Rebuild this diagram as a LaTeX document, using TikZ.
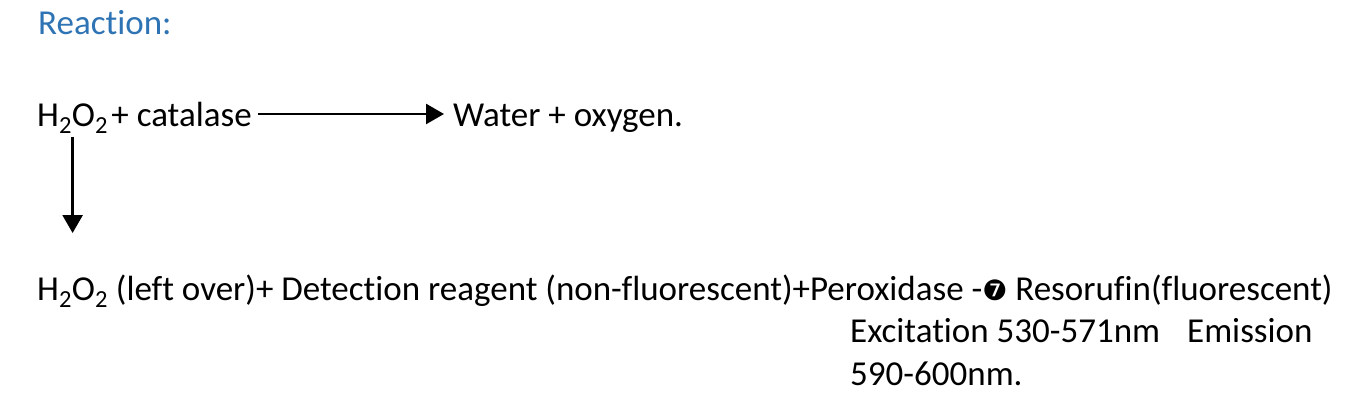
\documentclass[tikz,border=0pt]{standalone}
\usepackage{fontspec}
\setmainfont{Carlito}[Ligatures={NoCommon}]
\newfontfamily\symfont{DejaVu Sans}
\usetikzlibrary{arrows.meta}
\definecolor{headblue}{RGB}{46,116,181}
\tikzset{
  txt/.style={anchor=base west, inner sep=0pt, font=\fontsize{35}{42}\selectfont},
  react/.style={-{Triangle[width=20pt,length=18pt]}, line width=2.6pt}
}
\begin{document}
\begin{tikzpicture}[x=1pt,y=-1pt]
\useasboundingbox (0,0) rectangle (1360,400);
\node[txt, text=headblue](head) at (38,34) {Reaction:};
\node[txt](h2o2) at (37,126) {H\textsubscript{2}O\textsubscript{2}};
\node[txt, anchor=base west](catalase) at (h2o2.base east) {\hspace{3pt}+ catalase};
\node[txt](water) at (453,126) {Water + oxygen.};
\node[txt](bottom) at (37,300) {H\textsubscript{2}O\textsubscript{2} (left over)+ Detection reagent (non-fluorescent)+Peroxidase -{\symfont\fontsize{28}{30}\selectfont ❼} Resorufin(fluorescent)};
\node[txt](excite) at (850,342) {Excitation 530-571nm\hspace{27pt}Emission};
\node[txt](emit) at (850,385) {590-600nm.};
\coordinate (down) at (h2o2.south |- 0,233);
\draw[react, shorten <=6pt, shorten >=9pt] (catalase.east) -- (catalase.east -| water.west);
\draw[react, shorten <=3pt] (h2o2.south) -- (down);
\end{tikzpicture}
\end{document}
